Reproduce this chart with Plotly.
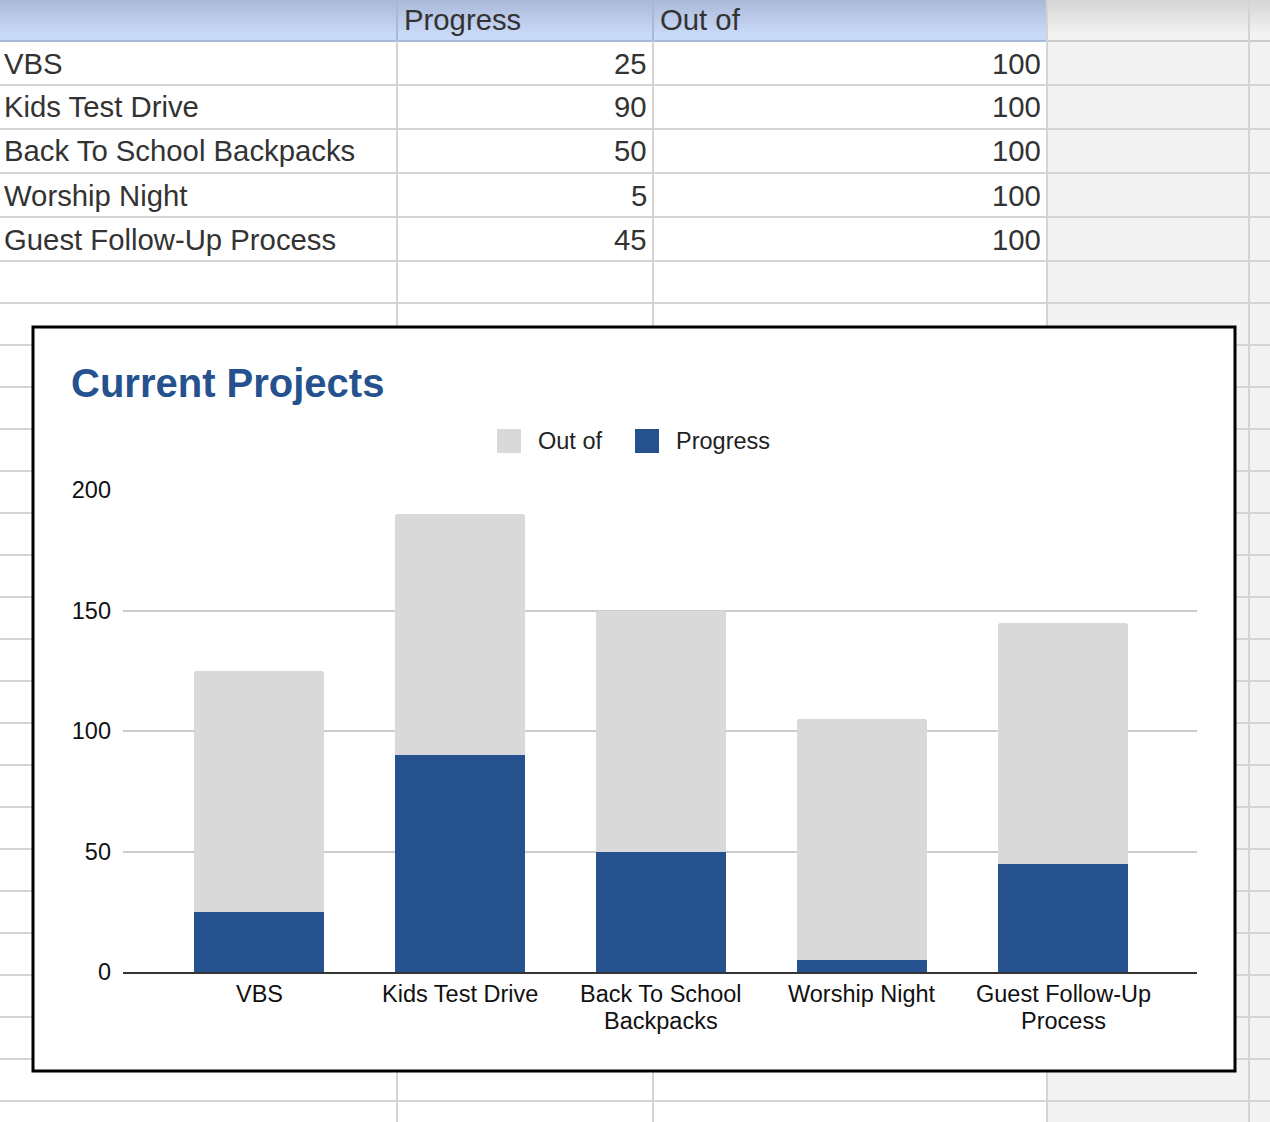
import plotly.graph_objects as go

# ---------------- data ----------------
categories = ["VBS", "Kids Test Drive", "Back To School Backpacks", "Worship Night", "Guest Follow-Up Process"]
axis_labels = ["VBS", "Kids Test Drive", "Back To School<br>Backpacks", "Worship Night", "Guest Follow-Up<br>Process"]
progress = [25, 90, 50, 5, 45]
out_of = [100, 100, 100, 100, 100]
y_ticks = [0, 50, 100, 150, 200]
header_labels = ["", "Progress", "Out of"]
legend_names = ["Out of", "Progress"]
chart_title = "Current Projects"

# ---------------- style ----------------
W, H = 1270, 1122
BLUE = "#25528f"
GREY = "#d9d9d9"
FONT = "Liberation Sans, Arial, Helvetica, sans-serif"
GRID = "#d4d4d4"
HDR_LINE = "#a9b9d9"


def X(px):
    return px / W


def Y(py):
    return 1 - py / H


fig = go.Figure()
x_idx = list(range(len(categories)))
bar_w = 0.647
fig.add_bar(x=x_idx, y=progress, name="Progress", marker=dict(color=BLUE, line=dict(width=0)),
            width=bar_w, showlegend=False, hoverinfo="skip")
fig.add_bar(x=x_idx, y=out_of, name="Out of", marker=dict(color=GREY, line=dict(width=0)),
            width=bar_w, showlegend=False, hoverinfo="skip")

shapes = []


def rect(x0, y0, x1, y1, fill, line_color=None, line_w=0):
    shapes.append(dict(type="rect", xref="paper", yref="paper", layer="below",
                       x0=X(x0), x1=X(x1), y0=Y(y1), y1=Y(y0), fillcolor=fill,
                       line=dict(width=line_w, color=line_color or fill)))


def line(x0, y0, x1, y1, color, w=2):
    shapes.append(dict(type="line", xref="paper", yref="paper", layer="below",
                       x0=X(x0), x1=X(x1), y0=Y(y0), y1=Y(y1),
                       line=dict(width=w, color=color)))


def mix(c1, c2, t):
    a = [int(c1[i:i + 2], 16) for i in (1, 3, 5)]
    b = [int(c2[i:i + 2], 16) for i in (1, 3, 5)]
    return "#" + "".join("%02x" % round(a[k] + (b[k] - a[k]) * t) for k in range(3))


# spreadsheet background: columns D+ grey
rect(1047, 0, W, H, "#f3f3f3")
# header band with vertical gradient
n_steps = 12
step = 3
for i in range(n_steps):
    t = i / (n_steps - 1)
    y0 = i * step
    y1 = 41 if i == n_steps - 1 else (i + 1) * step
    rect(0, y0, 1047, y1, mix("#acbad8", "#c9daf8", t))
    rect(1047, y0, W, y1, mix("#d6d6d6", "#f3f3f3", t))

# horizontal row lines
row_lines = [85, 129, 173, 217, 261] + [303 + 42 * k for k in range(20)]
for ry in row_lines:
    line(0, ry, W, ry, GRID)
line(0, 41, 1047, 41, HDR_LINE)
line(1047, 41, W, 41, "#cccccc")
# vertical column lines
for cx in [397, 653]:
    line(cx, 41, cx, H, GRID)
    line(cx, 0, cx, 41, HDR_LINE)
for cx in [1047, 1249]:
    line(cx, 0, cx, H, GRID)

# chart box
rect(33, 327, 1235, 1071, "white", "#000000", 3)

# legend swatches
legend_colors = {"Out of": GREY, "Progress": BLUE}
legend_x = [497, 635]
for name, lx in zip(legend_names, legend_x):
    rect(lx, 429, lx + 24, 453, legend_colors[name])

annotations = []


def text(x, y, s, size, color="#222222", xanchor="left", bold=False, xref="paper"):
    annotations.append(dict(xref=xref, yref="paper", x=x if xref == "x" else X(x), y=Y(y),
                            text=("<b>%s</b>" % s) if bold else s,
                            showarrow=False, xanchor=xanchor, yanchor="middle", borderpad=0,
                            font=dict(family=FONT, size=size, color=color)))


# table text
TBL = 29.3
TCOL = "#333333"
text(403, 20, header_labels[1], TBL, TCOL)
text(659, 20, header_labels[2], TBL, TCOL)
for i, cat in enumerate(categories):
    cy = 63 + 44 * i
    text(3, cy, cat, TBL, TCOL)
    text(648, cy, str(progress[i]), TBL, TCOL, xanchor="right")
    text(1042, cy, str(out_of[i]), TBL, TCOL, xanchor="right")

# chart title and legend text
text(70, 383, chart_title, 40, BLUE, bold=True)
for name, lx in zip(legend_names, legend_x):
    text(lx + 40, 441, name, 23.5, "#222222")

# category labels under the axis (tight line spacing as in the original)
for xi, lab in zip(x_idx, axis_labels):
    for k, part in enumerate(lab.split("<br>")):
        text(xi, 994 + 27 * k, part, 23.5, "#111111", xanchor="center", xref="x")

px_per_cat = 201.0
c0 = 259.0
fig.update_layout(
    width=W, height=H,
    autosize=False,
    margin=dict(l=0, r=0, t=0, b=0, pad=0, autoexpand=False),
    paper_bgcolor="white",
    plot_bgcolor="rgba(0,0,0,0)",
    barmode="stack",
    barcornerradius=3,
    showlegend=False,
    shapes=shapes,
    annotations=annotations,
    font=dict(family=FONT, color="#222222"),
    xaxis=dict(
        domain=[X(123), X(1197)],
        range=[-(c0 - 123) / px_per_cat, (1197 - c0) / px_per_cat],
        tickmode="array", tickvals=x_idx, ticktext=axis_labels,
        showticklabels=False,
        showgrid=False, zeroline=False, automargin=False,
        showline=True, linecolor="#333333", linewidth=2,
        ticks="",
        fixedrange=True,
    ),
    yaxis=dict(
        domain=[Y(972), Y(490)],
        range=[0, 200], automargin=False,
        tickmode="array", tickvals=y_ticks, ticktext=[str(v) for v in y_ticks],
        showgrid=True, gridcolor="#cccccc", gridwidth=2,
        zeroline=False, showline=False,
        ticks="", ticklabelstandoff=11,
        tickfont=dict(family=FONT, size=23.5, color="#111111"),
        fixedrange=True,
    ),
)

fig.write_html("out.html", config={"responsive": False})
